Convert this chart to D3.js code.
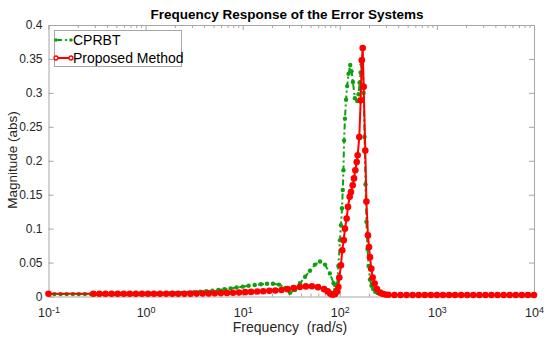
<!DOCTYPE html>
<html>
<head>
<meta charset="utf-8">
<script src="https://cdn.jsdelivr.net/npm/d3@7"></script>
<style>
  body { margin: 0; background: #fff; }
  svg { font-family: "Liberation Sans", Arial, sans-serif; }
  .axis path, .axis line { stroke: #a6a6a6; }
  .axis text { fill: #262626; font-size: 12.5px; }
</style>
</head>
<body>
<div id="chart"></div>
<script>
// CPRBT (green, dash-dot, dots)
var freqCPRBT = [0.1, 0.115, 0.133, 0.154, 0.178, 0.205, 0.237, 0.274, 0.316, 0.365, 0.422, 0.487,
  0.562, 0.649, 0.75, 0.866, 1, 1.155, 1.33, 1.54, 1.78, 2.05, 2.37, 2.74, 3.16, 3.65, 4.22, 4.87,
  5.62, 6.49, 7.5, 8.66, 10, 11.5, 13.3, 15.4, 17.8, 20.5, 23.7, 27.4, 30.7, 34.6, 39, 43.9, 49.3,
  55.5, 62.5, 70.4, 79, 86.3, 89.4, 91.4, 94, 96.6, 100.5, 102.8, 105.4, 107.3, 109, 110.7, 113,
  116, 119, 123, 128, 132, 136.5, 143, 151, 156, 160, 164, 168, 172, 176, 180, 184, 188, 193, 198,
  204.6, 212, 221, 232, 245, 260, 280, 300, 316, 365, 422, 487, 562, 649, 750, 866, 1000, 1155,
  1334, 1540, 1778, 2054, 2371, 2738, 3162, 3652, 4217, 4870, 5623, 6494, 7499, 8660, 10000];
var magCPRBT = [0.0035, 0.0035, 0.0035, 0.0035, 0.0035, 0.0035, 0.0035, 0.0035, 0.0035, 0.0035,
  0.0035, 0.0036, 0.0036, 0.0036, 0.0037, 0.0037, 0.0038, 0.0039, 0.004, 0.0042, 0.0044, 0.0047,
  0.0051, 0.0056, 0.0062, 0.0069, 0.0077, 0.0086, 0.0096, 0.0107, 0.0119, 0.0132, 0.0145, 0.0158,
  0.017, 0.018, 0.0188, 0.0188, 0.0175, 0.0125, 0.0055, 0.0096, 0.0195, 0.029, 0.038, 0.047,
  0.0515, 0.047, 0.034, 0.0195, 0.0096, 0.0045, 0.018, 0.045, 0.083, 0.105, 0.13, 0.157, 0.186,
  0.23, 0.262, 0.29, 0.31, 0.328, 0.341, 0.332, 0.316, 0.292, 0.288, 0.298, 0.315, 0.33, 0.342,
  0.35, 0.3, 0.235, 0.165, 0.11, 0.07, 0.045, 0.025, 0.016, 0.011, 0.007, 0.005, 0.0035, 0.003,
  0.0025, 0.0022, 0.002, 0.002, 0.002, 0.002, 0.002, 0.002, 0.002, 0.002, 0.002, 0.002, 0.002,
  0.002, 0.002, 0.002, 0.002, 0.002, 0.002, 0.002, 0.002, 0.002, 0.002, 0.002, 0.002, 0.002];

// Proposed Method (red, solid, circles)
var freqProposed = [0.1, 0.29, 0.335, 0.387, 0.447, 0.516, 0.596, 0.688, 0.795, 0.918, 1.06, 1.22,
  1.41, 1.63, 1.88, 2.17, 2.51, 2.9, 3.35, 3.87, 4.47, 5.16, 5.96, 6.88, 7.95, 9.18, 10.6, 12.2,
  14.1, 16.3, 18.8, 21.7, 25.1, 29, 33.5, 38.7, 44.7, 51.6, 59.6, 68.8, 75, 79.5, 82.6, 86, 89.5,
  94, 96.6, 98.9, 102.8, 106, 109.7, 113, 117.7, 121.4, 126.4, 130.3, 135.8, 140, 144.5, 149.3,
  152.8, 158.8, 164, 168.2, 172.2, 176.2, 183, 188, 195, 200, 204.6, 211, 218, 228.6, 241.5,
  259.4, 275, 295, 316, 365, 422, 487, 562, 649, 750, 866, 1000, 1155, 1334, 1540, 1778, 2054,
  2371, 2738, 3162, 3652, 4217, 4870, 5623, 6494, 7499, 8660, 10000];
var magProposed = [0.004, 0.004, 0.004, 0.004, 0.004, 0.004, 0.004, 0.004, 0.004, 0.004, 0.004,
  0.004, 0.004, 0.004, 0.004, 0.004, 0.0041, 0.0042, 0.0043, 0.0044, 0.0046, 0.0048, 0.005, 0.0053,
  0.0056, 0.006, 0.0064, 0.0068, 0.0073, 0.0078, 0.0083, 0.0088, 0.0095, 0.0108, 0.0125, 0.014,
  0.0149, 0.015, 0.0138, 0.0108, 0.0075, 0.0045, 0.003, 0.0028, 0.0038, 0.0075, 0.014, 0.028,
  0.046, 0.068, 0.083, 0.1, 0.115, 0.132, 0.147, 0.154, 0.164, 0.174, 0.186, 0.198, 0.208, 0.235,
  0.289, 0.348, 0.366, 0.309, 0.215, 0.14, 0.09, 0.073, 0.058, 0.041, 0.028, 0.019, 0.011, 0.006,
  0.004, 0.003, 0.0025, 0.0022, 0.0022, 0.0022, 0.0022, 0.0022, 0.0022, 0.0022, 0.0022, 0.0022,
  0.0022, 0.0022, 0.0022, 0.0022, 0.0022, 0.0022, 0.0022, 0.0022, 0.0022, 0.0022, 0.0022, 0.0022,
  0.0022, 0.0022, 0.0022];

var xMajor = [0.1, 1, 10, 100, 1000, 10000];
var xExponents = ["-1", "0", "1", "2", "3", "4"];
var yTicks = [0, 0.05, 0.1, 0.15, 0.2, 0.25, 0.3, 0.35, 0.4];

var svgWidth = 550, svgHeight = 340;
var plotLeft = 48.5, plotRight = 534, plotTop = 25, plotBottom = 296.5;

var svg = d3.select("#chart").append("svg")
  .attr("width", svgWidth)
  .attr("height", svgHeight);

var x = d3.scaleLog().domain([0.1, 10000]).range([plotLeft, plotRight]);
var y = d3.scaleLinear().domain([0, 0.4]).range([plotBottom, plotTop]);

var xMinor = x.ticks().filter(function(t) { return xMajor.indexOf(t) < 0; });

// box + ticks (inward, MATLAB style)
svg.append("g").attr("class", "axis")
  .attr("transform", `translate(0,${plotBottom})`)
  .call(d3.axisBottom(x).tickValues(xMinor).tickSize(-3).tickFormat(""))
  .select(".domain").remove();
svg.append("g").attr("class", "axis")
  .attr("transform", `translate(0,${plotTop})`)
  .call(d3.axisTop(x).tickValues(xMinor).tickSize(-3).tickFormat(""))
  .select(".domain").remove();

var bottomAxis = svg.append("g").attr("class", "axis")
  .attr("transform", `translate(0,${plotBottom})`)
  .call(d3.axisBottom(x).tickValues(xMajor).tickSizeInner(-5).tickSizeOuter(0).tickPadding(12));
svg.append("g").attr("class", "axis")
  .attr("transform", `translate(0,${plotTop})`)
  .call(d3.axisTop(x).tickValues(xMajor).tickSizeInner(-5).tickSizeOuter(0).tickFormat(""));

svg.append("g").attr("class", "axis")
  .attr("transform", `translate(${plotLeft},0)`)
  .call(d3.axisLeft(y).tickValues(yTicks).tickSizeInner(-5).tickSizeOuter(0).tickPadding(6)
    .tickFormat(d3.format("")))
  .selectAll(".tick text").style("font-size", "12px");
svg.append("g").attr("class", "axis")
  .attr("transform", `translate(${plotRight},0)`)
  .call(d3.axisRight(y).tickValues(yTicks).tickSizeInner(-5).tickSizeOuter(0).tickFormat(""));

// 10^n labels
bottomAxis.selectAll(".tick text").each(function(d, i) {
  var t = d3.select(this).text(null);
  t.append("tspan").text("10");
  t.append("tspan").attr("dy", "-0.5em").style("font-size", "9px").text(xExponents[i]);
});

// series
var green = "#0ea00e", red = "#ff0000";
var cprbt = freqCPRBT.map(function(f, i) { return [f, magCPRBT[i]]; });
var proposed = freqProposed.map(function(f, i) { return [f, magProposed[i]]; });
var line = d3.line().x(d => x(d[0])).y(d => y(d[1]));

svg.append("path").datum(cprbt)
  .attr("d", line).attr("fill", "none")
  .attr("stroke", green).attr("stroke-width", 2)
  .attr("stroke-dasharray", "6,3,2,3");
svg.append("g").selectAll("circle").data(cprbt).enter().append("circle")
  .attr("cx", d => x(d[0])).attr("cy", d => y(d[1])).attr("r", 2.2)
  .attr("fill", green);

svg.append("path").datum(proposed)
  .attr("d", line).attr("fill", "none")
  .attr("stroke", red).attr("stroke-width", 2);
svg.append("g").selectAll("circle").data(proposed).enter().append("circle")
  .attr("cx", d => x(d[0])).attr("cy", d => y(d[1])).attr("r", 3.3)
  .attr("fill", red);

// legend
var legend = svg.append("g");
legend.append("rect")
  .attr("x", 54.5).attr("y", 30.5).attr("width", 127).attr("height", 36)
  .attr("fill", "#fff").attr("stroke", "#a6a6a6");
legend.append("line").attr("x1", 56).attr("x2", 71).attr("y1", 40).attr("y2", 40)
  .attr("stroke", green).attr("stroke-width", 2).attr("stroke-dasharray", "6,3,2,3");
[56, 71].forEach(function(cx) {
  legend.append("circle").attr("cx", cx).attr("cy", 40).attr("r", 1.8).attr("fill", green);
  legend.append("circle").attr("cx", cx).attr("cy", 58).attr("r", 2).attr("fill", "#fff")
    .attr("stroke", red).attr("stroke-width", 1.3);
});
legend.append("line").attr("x1", 58).attr("x2", 69).attr("y1", 58).attr("y2", 58)
  .attr("stroke", red).attr("stroke-width", 2);
legend.append("text").attr("x", 73).attr("y", 45).style("font-size", "14px").attr("fill", "#000")
  .text("CPRBT");
legend.append("text").attr("x", 73).attr("y", 63).style("font-size", "14px").attr("fill", "#000")
  .text("Proposed Method");

// title & axis labels
svg.append("text").attr("x", 287).attr("y", 19).attr("text-anchor", "middle")
  .style("font-size", "13.5px").style("font-weight", "bold").attr("fill", "#000")
  .text("Frequency Response of the Error Systems");
svg.append("text").attr("x", 290).attr("y", 332).attr("text-anchor", "middle")
  .style("font-size", "14px").attr("fill", "#262626")
  .attr("xml:space", "preserve").text("Frequency  (rad/s)");
svg.append("text").attr("transform", "translate(17,160) rotate(-90)").attr("text-anchor", "middle")
  .style("font-size", "13.5px").attr("fill", "#262626")
  .text("Magnitude (abs)");
</script>
</body>
</html>
